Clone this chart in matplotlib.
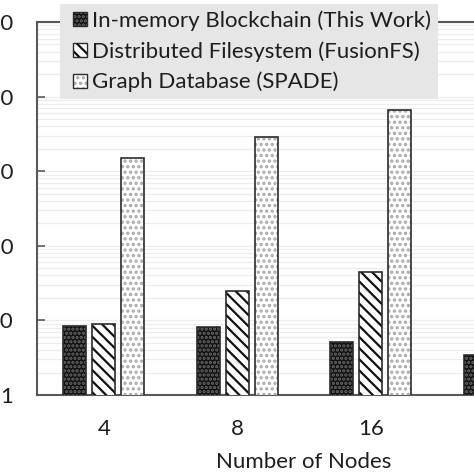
import matplotlib
matplotlib.use("Agg")
import matplotlib.pyplot as plt
from matplotlib.patches import Patch, Rectangle
from matplotlib.ticker import LogLocator, FixedFormatter
import numpy as np

plt.rcParams['font.family'] = ['Lato', 'DejaVu Sans']
plt.rcParams['hatch.linewidth'] = 1.6

# data (log scale)
nodes = ['4', '8', '16', '32']
blockchain = [8.4, 8.1, 5.1, 3.4]
fusionfs = [8.9, 24.8, 45, 80]
spade = [1500, 2870, 6600, 12000]
series_names = ['In-memory Blockchain (This Work)',
                'Distributed Filesystem (FusionFS)',
                'Graph Database (SPADE)']
y_ticks = [1, 10, 100, 1000, 10000, 100000]

text_col = '#1e1e1e'
axis_col = '#595959'
edge_col = '#2b2b2b'

styles = [
    dict(face='#111111', hatch='....', hcol='#6a6a6a'),
    dict(face='white', hatch='\\\\\\', hcol='#111111'),
    dict(face='white', hatch='...', hcol='#a8a8a8'),
]


class SquareHandler:
    # small square at the right end of the handle slot
    def legend_artist(self, legend, orig_handle, fontsize, handlebox):
        fill, outline = orig_handle
        s = handlebox.height
        x0 = -handlebox.xdescent + handlebox.width - s
        y0 = -handlebox.ydescent
        for p in (fill, outline):
            r = Rectangle((x0, y0), s, s)
            r.update_from(p)
            r.set_transform(handlebox.get_transform())
            handlebox.add_artist(r)
        return r


fig = plt.figure(figsize=(4.74, 4.74), dpi=100)
# the original picture is cropped: the plot runs past the right edge
ax = fig.add_axes([37 / 474, 79 / 474, 534 / 474, 373 / 474])

x = np.arange(len(nodes))
w = 0.172
off = 0.217
handles = []
for i, vals in enumerate([blockchain, fusionfs, spade]):
    st = styles[i]
    pos = x + (i - 1) * off
    ax.bar(pos, vals, w, color=st['face'], edgecolor=st['hcol'],
           hatch=st['hatch'], linewidth=0, zorder=3)
    ax.bar(pos, vals, w, facecolor='none', edgecolor=edge_col,
           linewidth=1.2, zorder=4)
    h1 = Patch(facecolor=st['face'], edgecolor=st['hcol'], hatch=st['hatch'], linewidth=0)
    h2 = Patch(facecolor='none', edgecolor=edge_col, linewidth=1.0)
    handles.append((h1, h2))

ax.set_yscale('log')
ax.set_ylim(1, 100000)
ax.set_xlim(-0.5, 3.5)
ax.set_yticks(y_ticks)
ax.yaxis.set_major_formatter(FixedFormatter([str(v) for v in y_ticks]))
ax.yaxis.set_minor_locator(LogLocator(base=10, subs=np.arange(2, 10)))
ax.yaxis.set_minor_formatter(FixedFormatter([]))
ax.tick_params(axis='y', which='major', direction='in', length=6, width=1.2,
               color=axis_col, pad=17, labelsize=16, labelcolor=text_col)
ax.tick_params(axis='y', which='minor', length=0)
ax.set_xticks(x)
ax.set_xticklabels(nodes)
ax.tick_params(axis='x', length=0, pad=17, labelsize=16, labelcolor=text_col)
ax.set_xlabel('Number of Nodes', fontsize=16, color=text_col, labelpad=10)

ax.grid(True, which='both', axis='y', color='#ececec', linewidth=0.9, zorder=0)
ax.set_axisbelow(True)
for s in ax.spines.values():
    s.set_color(axis_col)
    s.set_linewidth(1.5)

leg = fig.legend(handles, series_names, handler_map={tuple: SquareHandler()},
                 loc='upper left', bbox_to_anchor=(60 / 474, 1 - 4 / 474),
                 fontsize=16, frameon=True, fancybox=False, framealpha=1,
                 facecolor='#e6e6e6', edgecolor='none', handlelength=0.92,
                 handleheight=0.6, handletextpad=0.22, labelspacing=0.45,
                 borderpad=0.3, borderaxespad=0)
for t in leg.get_texts():
    t.set_color(text_col)

fig.savefig('out.png', dpi=100)
